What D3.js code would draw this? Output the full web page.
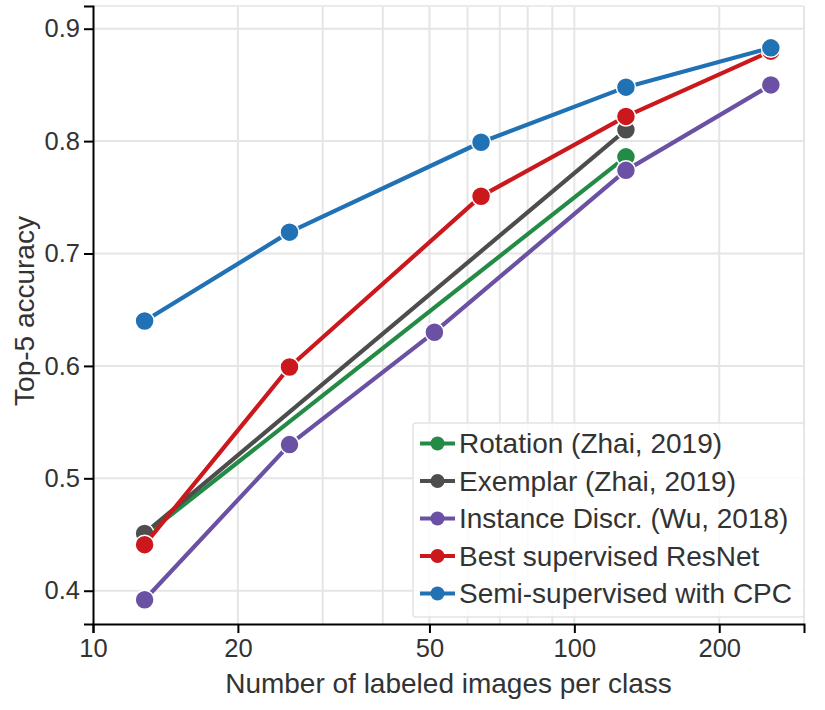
<!DOCTYPE html>
<html>
<head>
<meta charset="utf-8">
<script src="https://cdn.jsdelivr.net/npm/d3@7"></script>
<style>
  body { margin: 0; background: #fff; }
  text { font-family: "Liberation Sans", Arial, sans-serif; fill: #333; }
</style>
</head>
<body>
<svg class="chart"></svg>
<script>
// datos
const seriesNames = ["Rotation (Zhai, 2019)", "Exemplar (Zhai, 2019)", "Instance Discr. (Wu, 2018)", "Best supervised ResNet", "Semi-supervised with CPC"]
const seriesColors = ["#238b45", "#4d4d4d", "#6a51a3", "#cb181d", "#2171b5"]

const rotationX = [12.8, 128]
const rotationY = [0.449, 0.786]
const exemplarX = [12.8, 128]
const exemplarY = [0.451, 0.810]
const instanceX = [12.8, 25.6, 51.2, 128, 256]
const instanceY = [0.392, 0.530, 0.630, 0.774, 0.850]
const supervisedX = [12.8, 25.6, 64, 128, 256]
const supervisedY = [0.441, 0.599, 0.751, 0.822, 0.880]
const cpcX = [12.8, 25.6, 64, 128, 256]
const cpcY = [0.640, 0.719, 0.799, 0.848, 0.883]

const xTicks = [10, 20, 50, 100, 200]
const xGrid = [20, 30, 40, 50, 60, 70, 80, 90, 100, 200, 300]
const yTicks = [0.4, 0.5, 0.6, 0.7, 0.8, 0.9]

const allX = [rotationX, exemplarX, instanceX, supervisedX, cpcX]
const allY = [rotationY, exemplarY, instanceY, supervisedY, cpcY]
const series = seriesNames.map((name, i) => ({
  name,
  color: seriesColors[i],
  points: allX[i].map((x, j) => ({ x, y: allY[i][j] }))
}))

const W = 825, H = 710
const margin = { top: 6, right: 21, bottom: 86, left: 93 }
const width = W - margin.left - margin.right
const height = H - margin.top - margin.bottom

const svg = d3.select(".chart").attr("width", W).attr("height", H)
const g = svg.append("g").attr("transform", `translate(${margin.left},${margin.top})`)

const x = d3.scaleLog().domain([10, 300]).range([0, width])
const y = d3.scaleLinear().domain([0.3704, 0.9202]).range([height, 0])

// rejilla
g.append("g").selectAll("line").data(yTicks).join("line")
  .attr("x1", 0).attr("x2", width)
  .attr("y1", d => y(d)).attr("y2", d => y(d))
  .attr("stroke", "#e5e5e5").attr("stroke-width", 2)
g.append("g").selectAll("line").data(xGrid).join("line")
  .attr("x1", d => x(d)).attr("x2", d => x(d))
  .attr("y1", 0).attr("y2", height)
  .attr("stroke", "#e5e5e5").attr("stroke-width", 2)
g.append("line").attr("x1", 0).attr("x2", width).attr("y1", 0).attr("y2", 0)
  .attr("stroke", "#ebebeb").attr("stroke-width", 2)

// lineas y puntos
const line = d3.line().x(d => x(d.x)).y(d => y(d.y))
series.forEach(s => {
  g.append("path").datum(s.points)
    .attr("d", line)
    .attr("fill", "none")
    .attr("stroke", s.color)
    .attr("stroke-width", 4.2)
    .attr("stroke-linejoin", "round")
  g.append("g").selectAll("circle").data(s.points).join("circle")
    .attr("cx", d => x(d.x)).attr("cy", d => y(d.y))
    .attr("r", 9.5)
    .attr("fill", s.color)
    .attr("stroke", "#fff").attr("stroke-width", 1.5)
})

// ejes
const xAxis = g.append("g").attr("transform", `translate(0,${height})`)
  .call(d3.axisBottom(x).tickValues(xTicks).tickFormat(d3.format("d")).tickSize(9).tickPadding(6))
const yAxis = g.append("g")
  .call(d3.axisLeft(y).tickValues(yTicks).tickFormat(d3.format(".1f")).tickSize(9).tickPadding(4))
;[xAxis, yAxis].forEach(a => {
  a.select(".domain").attr("stroke", "#000").attr("stroke-width", 2)
  a.selectAll(".tick line").attr("stroke", "#000").attr("stroke-width", 2)
  a.selectAll(".tick text").attr("font-size", 25.5).attr("font-family", null).style("fill", "#333")
})

svg.append("text")
  .attr("x", margin.left + width / 2).attr("y", 693)
  .attr("text-anchor", "middle").attr("font-size", 28)
  .text("Number of labeled images per class")
svg.append("text")
  .attr("transform", `translate(34,311) rotate(-90)`)
  .attr("text-anchor", "middle").attr("font-size", 28)
  .text("Top-5 accuracy")

// leyenda
const leg = svg.append("g").attr("transform", "translate(413,423)")
leg.append("rect").attr("width", 391).attr("height", 194).attr("rx", 3)
  .attr("fill", "#fff").attr("fill-opacity", 0.85)
  .attr("stroke", "#e3e3e3").attr("stroke-width", 1.5)
series.forEach((s, i) => {
  const row = leg.append("g").attr("transform", `translate(0,${20.5 + i * 37.5})`)
  row.append("line").attr("x1", 7).attr("x2", 42).attr("stroke", s.color).attr("stroke-width", 4)
  row.append("circle").attr("cx", 24.5).attr("r", 7).attr("fill", s.color)
  row.append("text").attr("x", 46).attr("dy", "0.35em").attr("font-size", 28).text(s.name)
})
</script>
</body>
</html>
